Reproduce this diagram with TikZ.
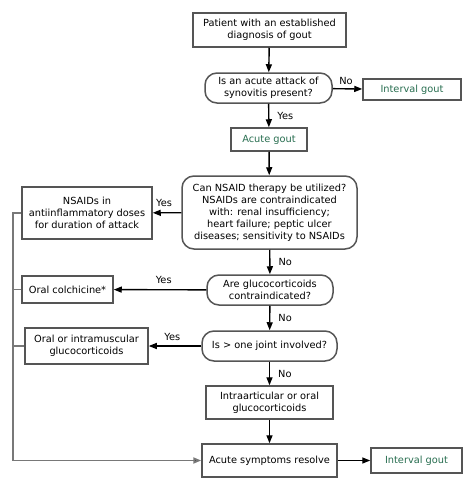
\documentclass[tikz,border=0pt]{standalone}
\usepackage{fontspec}
\setmainfont{DejaVu Sans}
\usetikzlibrary{arrows.meta}
\definecolor{gtxt}{RGB}{40,110,80}
\definecolor{bord}{RGB}{85,85,85}
\definecolor{lgray}{RGB}{120,120,120}
\begin{document}
\begin{tikzpicture}[x=1pt,y=-1pt,
  every node/.style={font=\fontsize{9.8}{12}\selectfont, align=center, inner sep=0pt},
  box/.style={draw=bord, line width=1.5pt, fill=white, minimum width=#1},
  dec/.style={draw=bord, line width=1.5pt, fill=white, rounded corners=12pt, minimum width=#1},
  arr/.style={draw=black, line width=1.4pt, -{Triangle[length=8pt,width=6pt]}},
  gline/.style={draw=lgray, line width=1.8pt},
  lbl/.style={font=\fontsize{9.8}{12}\selectfont}]
\useasboundingbox (0,0) rectangle (469,487);
\fill[white] (0,0) rectangle (469,487);
\node[box=153pt, minimum height=34pt] (b1) at (269.5,30) {Patient with an established\\diagnosis of gout};
\node[dec=127pt, minimum height=30pt] (d1) at (268.5,88) {Is an acute attack of\\synovitis present?};
\node[box=98pt, minimum height=21pt, text=gtxt] (ig1) at (412,89.5) {Interval gout};
\node[box=76pt, minimum height=23pt, text=gtxt] (ag) at (269,139.5) {Acute gout};
\node[dec=175pt, minimum height=73pt] (d2) at (269.5,212.5) {Can NSAID therapy be utilized?\\NSAIDs are contraindicated\\with: renal insufficiency;\\heart failure; peptic ulcer\\diseases; sensitivity to NSAIDs};
\node[box=130pt, minimum height=52pt] (ns) at (87,213) {NSAIDs in\\antiinflammatory doses\\for duration of attack};
\node[dec=126pt, minimum height=30pt] (d3) at (270,290) {Are glucocorticoids\\contraindicated?};
\node[box=91pt, minimum height=27pt] (col) at (67.5,289.5) {Oral colchicine*};
\node[dec=135pt, minimum height=30pt] (d4) at (269.5,346) {Is > one joint involved?};
\node[box=123pt, minimum height=36pt] (oim) at (86.5,346) {Oral or intramuscular\\glucocorticoids};
\node[box=127pt, minimum height=33pt] (ia) at (269.5,402.5) {Intraarticular or oral\\glucocorticoids};
\node[box=135pt, minimum height=33pt] (asr) at (269.5,460.5) {Acute symptoms resolve};
\node[box=91pt, minimum height=25pt, text=gtxt] (ig2) at (416.5,460.5) {Interval gout};
\coordinate (c1) at (13,213);
\coordinate (c2) at (13,460.5);
\coordinate (c3) at (13,289.5);
\coordinate (c4) at (13,346);
\draw[arr] (b1) -- (d1);
\draw[arr] (d1) -- (ig1) node[lbl, pos=0.45, above=3pt] {No};
\draw[arr] (d1) -- (ag) node[lbl, midway, right=8pt] {Yes};
\draw[arr] (ag) -- (d2);
\draw[arr] (d2) -- (ns) node[lbl, pos=0.6, above=5pt] {Yes};
\draw[arr] (d2) -- (d3) node[lbl, midway, right=8pt] {No};
\draw[arr] (d3) -- (col) node[lbl, pos=0.46, above=5pt] {Yes};
\draw[arr] (d3) -- (d4) node[lbl, midway, right=8pt] {No};
\draw[arr] (d4) -- (oim) node[lbl, pos=0.55, above=5pt] {Yes};
\draw[arr] (d4) -- (ia) node[lbl, midway, right=8pt] {No};
\draw[arr] (ia) -- (asr);
\draw[arr] (asr) -- (ig2);
\draw[gline] (ns.west) -- (c1) -- (c2);
\draw[gline] (col.west) -- (c3);
\draw[gline] (oim.west) -- (c4);
\draw[gline, -{Triangle[length=8pt,width=6pt,fill=black]}] (c2) -- (asr.west);
\end{tikzpicture}
\end{document}
